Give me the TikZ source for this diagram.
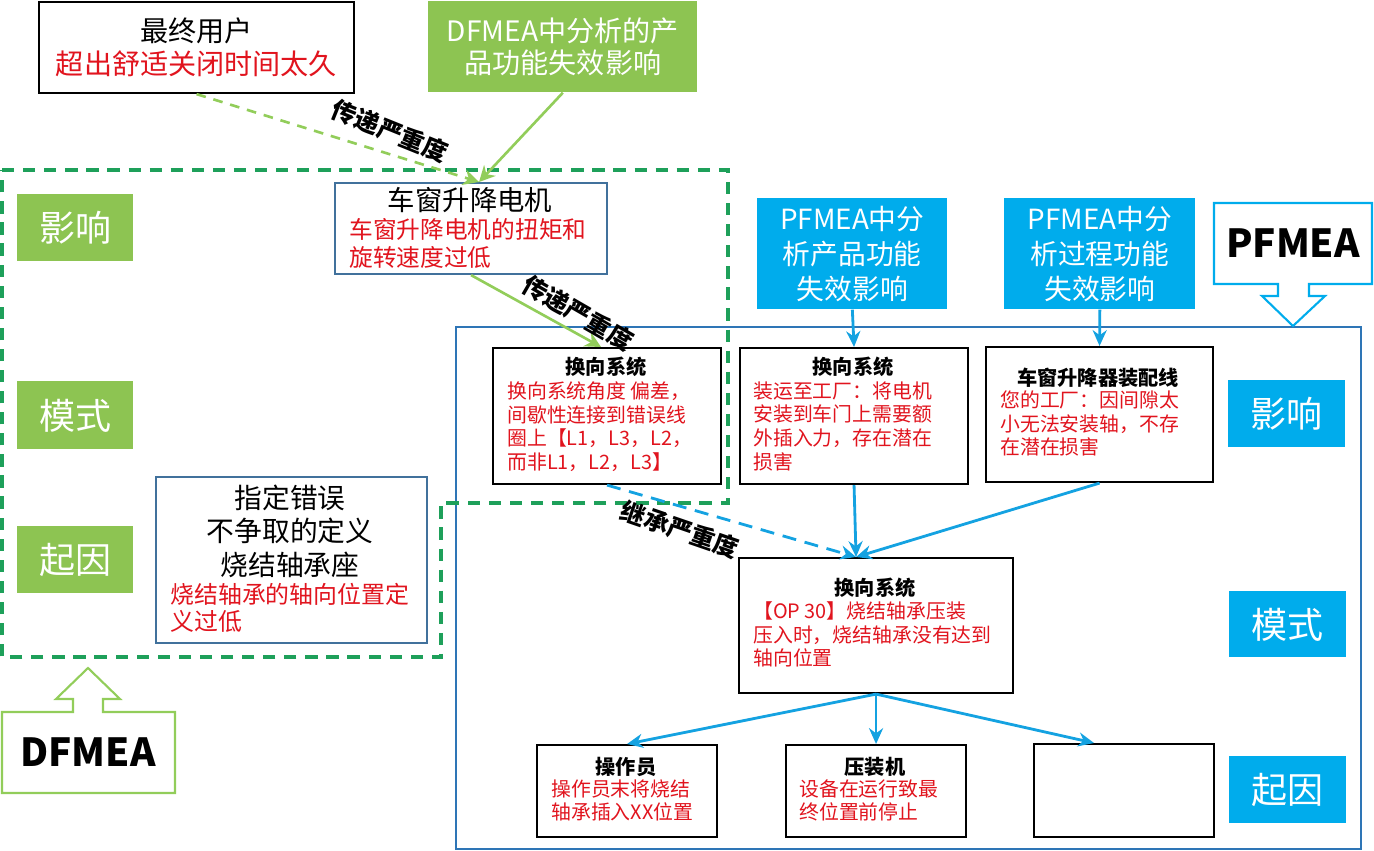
\documentclass[tikz,border=0pt]{standalone}
\usepackage{fontspec}
\setmainfont{Noto Sans CJK SC}
\usetikzlibrary{arrows.meta}

\definecolor{fgreen}{RGB}{141,196,82}
\definecolor{lgreen}{RGB}{146,205,90}
\definecolor{dgreen}{RGB}{30,160,90}
\definecolor{sky}{RGB}{0,172,236}
\definecolor{arrblue}{RGB}{20,162,225}
\definecolor{steel}{RGB}{65,113,156}
\definecolor{pframe}{RGB}{46,117,182}
\definecolor{txtred}{RGB}{225,20,30}

\begin{document}
\begin{tikzpicture}[x=0.02cm, y=-0.02cm]
    % ==========================
    % 设定
    % ==========================
    \def\px{0.02cm} % 1 像素
    \tikzset{
        box/.style={draw=black, line width=1.2pt, fill=white, inner sep=0pt, anchor=north west}, % 黑框
        tbox/.style={draw=steel, line width=1.2pt, fill=white, inner sep=0pt, anchor=north west}, % 蓝灰框
        gtag/.style={fill=fgreen, text=white, inner sep=0pt, anchor=north west, align=center},
        btag/.style={fill=sky, text=white, inner sep=0pt, anchor=north west, align=center},
        big/.style={font=\fontsize{20.5}{24}\selectfont},
        ttl/.style={inner sep=0pt, font=\bfseries\fontsize{11.5}{13.6}\selectfont}, % 框内标题
        body/.style={text=txtred, align=left, inner sep=0pt, anchor=north west, font=\fontsize{11.3}{13.6}\selectfont}, % 红字
        sev/.style={inner sep=0pt, font=\bfseries\fontsize{14}{16}\selectfont},
        garr/.style={lgreen, line width=1.5pt, -{Stealth[length=9pt,width=9pt]}},
        barr/.style={arrblue, line width=1.6pt, -{Stealth[length=9pt,width=8pt]}}
    }
    \useasboundingbox (0,0) rectangle (1374,851);

    % ==========================
    % 1. PFMEA 外框
    % ==========================
    \draw[pframe, line width=1.2pt] (456,327) rectangle (1361,849);

    % ==========================
    % 2. DFMEA 虚线框
    % ==========================
    \draw[dgreen, line width=1.8pt, dash pattern=on 7pt off 5pt]
        (2,170) -- (728,170) -- (728,503) -- (441,503) -- (441,657) -- (2,657) -- cycle;

    % 左侧标签
    \node[gtag, big, minimum width=116*\px, minimum height=67*\px] (geff) at (17,194) {影响};
    \node[gtag, big, minimum width=116*\px, minimum height=68*\px] (gmode) at (17,381) {模式};
    \node[gtag, big, minimum width=116*\px, minimum height=67*\px] (gcause) at (17,526) {起因};

    % 最终用户 / DFMEA 影响
    \node[box, minimum width=315*\px, minimum height=91*\px, align=center,
        font=\fontsize{16}{18.7}\selectfont] (user) at (38,1)
        {最终用户\\\textcolor{txtred}{超出舒适关闭时间太久}};
    \node[gtag, minimum width=269*\px, minimum height=91*\px,
        font=\fontsize{16}{18.7}\selectfont] (deff) at (428,1)
        {DFMEA中分析的产\\品功能失效影响};

    % 车窗升降电机
    \node[tbox, minimum width=272*\px, minimum height=91*\px] (motor) at (334,182) {};
    \node[inner sep=0pt, font=\fontsize{15.6}{18}\selectfont] (motort) at (470,200) {车窗升降电机};
    \node[body, font=\fontsize{13.5}{15.9}\selectfont] (motorx) at (349,218)
        {车窗升降电机的扭矩和\\旋转速度过低};
    \coordinate (motin) at ([xshift=8*\px]motor.north);

    % 起因框
    \node[tbox, minimum width=271*\px, minimum height=166*\px] (cause) at (155,476) {};
    \node[inner sep=0pt, align=center, font=\fontsize{15.8}{19}\selectfont] (causet) at (290,531)
        {指定错误\\不争取的定义\\烧结轴承座};
    \node[body, font=\fontsize{13.6}{15.3}\selectfont] (causex) at (170,583)
        {烧结轴承的轴向位置定\\义过低};

    % DFMEA 箭头框
    \draw[lgreen, line width=1.2pt, fill=white]
        (2,712) -- (73,712) -- (73,699) -- (56,699) -- (88,668) -- (120,699)
        -- (103,699) -- (103,712) -- (175,712) -- (175,793) -- (2,793) -- cycle;
    \node[inner sep=0pt, font=\bfseries\fontsize{22}{26}\selectfont] (dlbl) at (88,752) {DFMEA};

    % ==========================
    % 3. PFMEA 部分
    % ==========================
    \node[btag, minimum width=190*\px, minimum height=111*\px,
        font=\fontsize{15.8}{19.8}\selectfont] (pa) at (757,198) {PFMEA中分\\析产品功能\\失效影响};
    \node[btag, minimum width=191*\px, minimum height=111*\px,
        font=\fontsize{15.8}{19.8}\selectfont] (pb) at (1004,198) {PFMEA中分\\析过程功能\\失效影响};

    % PFMEA 箭头框
    \draw[sky, line width=1.2pt, fill=white]
        (1214,203) -- (1372,203) -- (1372,284) -- (1309,284) -- (1309,296) -- (1325,296)
        -- (1293,326) -- (1262,296) -- (1278,296) -- (1278,284) -- (1214,284) -- cycle;
    \node[inner sep=0pt, font=\bfseries\fontsize{22}{26}\selectfont] (plbl) at (1293,243) {PFMEA};

    % 右侧标签
    \node[btag, big, minimum width=117*\px, minimum height=67*\px] (peff) at (1228,380) {影响};
    \node[btag, big, minimum width=117*\px, minimum height=66*\px] (pmode) at (1229,591) {模式};
    \node[btag, big, minimum width=117*\px, minimum height=67*\px] (pcause) at (1229,756) {起因};

    % 第一行
    \node[box, minimum width=228*\px, minimum height=136*\px] (b1) at (492,347) {};
    \node[ttl] (b1t) at (606,367) {换向系统};
    \node[body] (b1x) at (507,381) {换向系统角度 偏差，\\间歇性连接到错误线\\圈上【L1，L3，L2，\\而非L1，L2，L3】};

    \node[box, minimum width=228*\px, minimum height=136*\px] (b2) at (739,347) {};
    \node[ttl] (b2t) at (853,367) {换向系统};
    \node[body] (b2x) at (753,381) {装运至工厂：将电机\\安装到车门上需要额\\外插入力，存在潜在\\损害};

    \node[box, minimum width=227*\px, minimum height=135*\px] (b3) at (985,346) {};
    \node[ttl] (b3t) at (1098,378) {车窗升降器装配线};
    \node[body] (b3x) at (1000,390) {您的工厂：因间隙太\\小无法安装轴，不存\\在潜在损害};

    % 中间
    \node[box, minimum width=274*\px, minimum height=135*\px] (bc) at (738,557) {};
    \node[ttl] (bct) at (875,588) {换向系统};
    \node[body] (bcx) at (753,601) {【OP 30】烧结轴承压装\\压入时，烧结轴承没有达到\\轴向位置};
    \coordinate (bcin) at ([xshift=-20*\px]bc.north);

    % 底行
    \node[box, minimum width=180*\px, minimum height=92*\px] (o1) at (536,744) {};
    \node[ttl] (o1t) at (626,767) {操作员};
    \node[body] (o1x) at (551,779) {操作员末将烧结\\轴承插入XX位置};

    \node[box, minimum width=180*\px, minimum height=92*\px] (o2) at (785,744) {};
    \node[ttl] (o2t) at (875,767) {压装机};
    \node[body] (o2x) at (799,779) {设备在运行致最\\终位置前停止};

    \node[box, minimum width=180*\px, minimum height=93*\px] (o3) at (1033,743) {};

    % ==========================
    % 4. 连线
    % ==========================
    \draw[garr, dash pattern=on 5.5pt off 4.5pt] (user.south) -- (motin);
    \draw[garr] (deff.south) -- (motin);
    \draw[garr] (motor.south) -- ([xshift=-6*\px]b1.north);

    \draw[barr] (pa.south) -- (b2.north);
    \draw[barr] (pb.south) -- (b3.north);
    \draw[barr, dash pattern=on 8pt off 5pt] (b1.south) -- (bcin);
    \draw[barr] (b2.south) -- (bcin);
    \draw[barr] (b3.south) -- (bcin);
    \draw[barr] (bc.south) -- (o1.north);
    \draw[barr] (bc.south) -- (o2.north);
    \draw[barr] (bc.south) -- ([xshift=-30*\px]o3.north);

    % 严重度标注
    \node[sev, rotate=-22] (sev1) at (390,131) {传递严重度};
    \node[sev, rotate=-30] (sev2) at (578,313) {传递严重度};
    \node[sev, rotate=-19] (sev3) at (680,530) {继承严重度};

\end{tikzpicture}
\end{document}
